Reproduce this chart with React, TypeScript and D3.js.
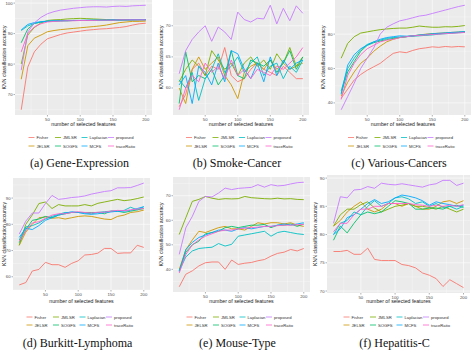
import React from "react";
import * as d3 from "d3";

// number of selected features (x axis)
const features = [10, 20, 30, 40, 50, 60, 70, 80, 90, 100, 110, 120, 130, 140, 150, 160, 170, 180, 190, 200];

const methods = ["Fisher", "JELSR", "JMLSR", "SOGFS", "Laplacian", "MCFS", "proposed", "traceRatio"];
const colors = ["#F8766D", "#CD9600", "#7CAE00", "#00BE67", "#00BFC4", "#00A9FF", "#C77CFF", "#FF61CC"];

const xTicks = [50, 100, 150, 200];

// one row per method, same order as `methods`
const geneExpression = [
  [65, 79, 84, 86.5, 88.3, 89, 89.7, 90.2, 90.5, 90.8, 91.1, 91.3, 91.5, 91.6, 91.8, 92, 92.3, 92.8, 93.2, 93.4],
  [75, 86, 88.5, 89.5, 90.6, 91, 91.3, 91.5, 91.7, 91.9, 92.1, 92.3, 92.5, 92.8, 93.2, 93.6, 93.8, 94, 94, 94.1],
  [80, 89.5, 92, 93.5, 94.3, 94.5, 94.6, 94.8, 94.9, 95, 94.9, 94.8, 94.7, 94.6, 94.5, 94.5, 94.5, 94.5, 94.5, 94.5],
  [87, 91.5, 93.3, 93.8, 94, 94.1, 94.2, 94.2, 94.3, 94.3, 94.3, 94.4, 94.4, 94.4, 94.5, 94.5, 94.5, 94.5, 94.6, 94.6],
  [91, 92.5, 93.3, 93.8, 94, 94.1, 94.2, 94.2, 94.3, 94.3, 94.3, 94.3, 94.4, 94.4, 94.4, 94.4, 94.5, 94.5, 94.5, 94.5],
  [91.2, 93, 93.6, 93.9, 94.1, 94.2, 94.2, 94.3, 94.3, 94.3, 94.4, 94.4, 94.4, 94.4, 94.5, 94.5, 94.5, 94.6, 94.6, 94.6],
  [78, 90.5, 93.5, 95.3, 96.5, 97.2, 97.7, 98, 98.3, 98.5, 98.7, 98.8, 98.8, 98.7, 98.9, 99, 98.9, 99.1, 99.2, 99.3],
  [84, 90, 92.2, 93.2, 93.8, 94, 94.1, 94.2, 94.2, 94.3, 94.3, 94.3, 94.4, 94.4, 94.4, 94.5, 94.5, 94.5, 94.5, 94.5],
];

const smokeCancer = [
  [57, 59, 63, 64, 62, 63.5, 63, 66.5, 62, 61, 61.5, 63, 64, 63, 62.5, 62, 63.5, 62.5, 61.5, 61.5],
  [60, 57.5, 63, 65, 63, 64, 65, 62, 60.5, 58.3, 62.5, 63.5, 64, 63, 64.5, 63, 64, 63, 63.5, 64],
  [61, 63, 64.5, 63.5, 62, 66, 64.5, 63, 64, 62, 64, 65, 63.5, 64.5, 63, 65.5, 64, 66.5, 63.5, 65],
  [57.5, 65.8, 61, 62, 61.5, 63, 60.5, 62, 66, 62, 61.5, 64.5, 64, 63.5, 64.5, 62.5, 64, 66, 63, 65],
  [61.3, 60, 62.5, 58, 61.5, 63, 65.5, 62.5, 63.5, 65, 62.5, 64, 65, 62, 63.5, 64, 61.5, 63.5, 62.5, 64.5],
  [60.5, 62, 57.5, 63.5, 62.5, 60.5, 64, 61, 66, 65.5, 63, 61.5, 64, 61, 65, 62, 64.5, 63, 64, 64.5],
  [62.3, 66, 67.8, 69, 70, 67.5, 69.8, 69, 67.8, 72.2, 71, 70.6, 71.2, 71.1, 73.3, 70.3, 72.8, 70.8, 73.2, 72],
  [56.5, 60, 62, 61, 64, 62.5, 63.5, 61.5, 64.5, 62, 63, 61.5, 63, 62.5, 62, 63.5, 63, 64, 65, 66.5],
];

const variousCancers = [
  [42.7, 48, 53.3, 56.5, 59, 61, 63, 66, 68.8, 69.7, 69.2, 70.5, 71.5, 72, 72.6, 72.3, 72.8, 72.5, 72.8, 72.6],
  [44, 52, 58, 63, 66, 70, 73, 75.5, 77, 78, 78.5, 79, 79.5, 80, 80.3, 80.5, 80.7, 81, 81.2, 81.3],
  [66, 74.6, 78.5, 80.6, 81.3, 82, 82.6, 83, 83.3, 83.5, 83.5, 84, 84.7, 84.3, 84, 84, 84.3, 84.2, 84.5, 85],
  [45.6, 58, 64, 70, 73.5, 75, 76, 76.8, 77.5, 78, 78.5, 79, 79.3, 79.5, 80, 80.2, 80.5, 80.7, 81, 81.3],
  [47, 60, 66, 71, 74, 75.5, 76.5, 77.5, 78, 78.3, 78.5, 78.8, 79, 79.3, 79.5, 80, 80.2, 80.5, 80.8, 81],
  [45, 62, 68, 71.5, 73.5, 75.5, 77, 78, 78.5, 79, 78.8, 79, 79.5, 79.8, 80.2, 80.5, 80.7, 81, 81.2, 81.5],
  [36, 43.7, 51.4, 60, 66, 72, 80, 84, 86, 87.7, 88.5, 89.5, 90.5, 91, 92, 93, 94, 95, 96, 96.8],
  [42, 56, 63, 68, 71.5, 73.5, 75.5, 76.5, 77, 78, 78.5, 79, 79.2, 79.5, 79.8, 80, 80.3, 80.5, 80.7, 81],
];

const burkittLymphoma = [
  [56.9, 57.8, 62.2, 62.8, 65.5, 64.6, 64.6, 63.6, 65.1, 66.1, 68.3, 68.5, 69, 70.8, 70.8, 68.9, 69.1, 69.1, 72, 71.2],
  [72, 77, 80, 82.5, 82.8, 82.3, 82.5, 82, 82.5, 83, 83.2, 83, 82.5, 82, 81.8, 83, 83.5, 84.5, 84.8, 85.4],
  [72, 80, 83.6, 87.9, 88.5, 86, 87.5, 87, 87, 87, 87.5, 87, 88, 88.5, 89, 89.5, 89, 89.3, 89.8, 90.4],
  [73, 78, 81.5, 82, 83, 82.5, 83.5, 84, 84.5, 84.5, 84.5, 84.5, 84.5, 84, 85, 85, 84.5, 85, 85.5, 86],
  [74, 79, 79.5, 80.5, 82, 83, 83.8, 84.5, 84.5, 84.5, 84.3, 84, 84.5, 84.8, 85, 85, 85.3, 86.5, 85.5, 86.7],
  [75, 78.5, 78, 79.5, 81.5, 82.5, 83.5, 84.2, 84.8, 84.5, 84, 83.8, 84, 84.5, 84.7, 85, 85, 85.3, 86, 86.7],
  [76.3, 81.2, 84.3, 84.3, 87.9, 91, 89.5, 89.8, 90.2, 90.4, 90.8, 91.5, 92, 92.5, 92.8, 93.9, 93.9, 94, 94.8, 95.7],
  [73.5, 77.5, 80.5, 81, 82.3, 83.5, 84, 84, 84.5, 84.8, 84.5, 84.3, 84.6, 84.6, 85, 85.3, 85.2, 85.5, 85.8, 86],
];

const mouseType = [
  [32.9, 38, 39.4, 41.4, 42.7, 43, 43, 40, 43.8, 42, 42.5, 42.8, 43.5, 44, 45.4, 46.5, 47, 48.1, 47.5, 48.5],
  [40, 48, 52, 55.5, 55, 56, 57, 57.5, 56.5, 56.5, 56, 57.5, 59, 58.5, 59, 59, 58.5, 59, 58, 57.5],
  [54.2, 61, 67.7, 68.5, 69.7, 69, 68.5, 68.8, 68.7, 68.8, 69.7, 69.2, 69, 68.8, 68.7, 69, 68.7, 68.8, 68.5, 68.4],
  [39.4, 47, 50, 51.5, 54.5, 55, 55.5, 57, 57.5, 57, 57.5, 58, 58, 58.3, 57, 58, 58, 58.5, 57.5, 58.5],
  [39.4, 45, 47.5, 48.5, 48.8, 49, 50.5, 49.5, 50.2, 53.5, 54, 54.5, 55, 55.5, 53.5, 55, 55.5, 55, 54.5, 54.2],
  [39, 48, 51, 53, 54, 55, 56, 56, 55.5, 56.5, 57, 56.5, 57, 57.5, 57.5, 58, 58.5, 58, 58.5, 59],
  [46.1, 56.9, 61.6, 67.7, 69.7, 69.5, 71.1, 73.1, 72.5, 73, 73.2, 73.4, 74.5, 73.5, 74.5, 74, 74.2, 74.8, 75.3, 75.5],
  [38.5, 46, 50, 52, 53.5, 54.5, 55.5, 56, 56, 56.5, 56.8, 57, 57.2, 57.5, 57.5, 57.8, 58, 58, 58.2, 58.3],
];

const hepatitisC = [
  [77, 77, 77.2, 76.5, 76.5, 77.6, 75.6, 75.4, 75.4, 75.4, 74.7, 74.5, 74.1, 73.2, 72.8, 72.2, 70.8, 72, 71.3, 70.6],
  [81.5, 82.5, 84, 85, 85.8, 84.5, 84, 84.5, 85.5, 85.5, 85, 85.5, 85, 84.5, 84.5, 85, 85.8, 86, 85.5, 86],
  [81.5, 83.5, 84.5, 84.5, 85.3, 85.8, 84.7, 84, 84.5, 85, 85.2, 85.5, 85, 85, 84.8, 84.5, 85, 84.5, 84, 84.5],
  [79, 81.5, 80.3, 82, 83.5, 84, 83.7, 84, 85, 86, 85.8, 85.5, 84.5, 84.5, 84.7, 84.7, 84.5, 85, 85.2, 84.8],
  [80, 82, 82.5, 84, 83.5, 85, 86, 85, 85.5, 86.5, 86.7, 86.3, 85.5, 85.8, 85, 85.5, 84.8, 85, 84.5, 85],
  [80, 81, 83, 83.5, 84.5, 85.5, 86.2, 85.5, 85.8, 86.5, 87, 86.8, 86.5, 86, 85.2, 85.8, 85.5, 85.3, 85, 85.2],
  [82, 86.7, 86.5, 87.9, 88, 88.5, 88.2, 89.1, 88.9, 88.8, 89, 88.8, 88.6, 88.4, 88.8, 89, 89.6, 89.6, 88.7, 89.1],
  [80.5, 82, 82, 83.5, 84.5, 84.5, 85, 85, 85.5, 85.5, 85.5, 85.5, 85.3, 85.2, 85, 85.2, 85, 85.2, 85, 85.3],
];

const panels = [
  { caption: "(a) Gene-Expression", data: geneExpression, yTicks: [70, 80, 90, 100], l: 15, r: 152, t: 0, b: 115, row: 0 },
  { caption: "(b) Smoke-Cancer", data: smokeCancer, yTicks: [60, 65, 70], l: 173, r: 309, t: 0, b: 115, row: 0 },
  { caption: "(c) Various-Cancers", data: variousCancers, yTicks: [40, 60, 80], l: 335, r: 471, t: 0, b: 115, row: 0 },
  { caption: "(d) Burkitt-Lymphoma", data: burkittLymphoma, yTicks: [60, 70, 80, 90], l: 13, r: 150, t: 178, b: 290, row: 1 },
  { caption: "(e) Mouse-Type", data: mouseType, yTicks: [40, 50, 60, 70], l: 173, r: 310, t: 177, b: 292, row: 1 },
  { caption: "(f) Hepatitis-C", data: hepatitisC, yTicks: [70, 75, 80, 85, 90], l: 327, r: 470, t: 175, b: 293, row: 1 },
];

const rows = [
  { xTitle: 126, leg: [137.5, 146], cap: 167 },
  { xTitle: 303, leg: [317, 325], cap: 347 },
];

const sans = "'Liberation Sans', Arial, sans-serif";

function mids(t: number[]) {
  const step = t[1] - t[0];
  return [t[0] - step / 2, ...t.map((v) => v + step / 2)];
}

function Panel({ p }: { p: any }) {
  const rw = rows[p.row];
  const x = d3.scaleLinear().domain([0.5, 209.5]).range([p.l, p.r]);
  const [mn, mx] = d3.extent(p.data.flat() as number[]) as [number, number];
  const pad = (mx - mn) * 0.05;
  const y = d3.scaleLinear().domain([mn - pad, mx + pad]).range([p.b, p.t]);
  const line = d3
    .line<number>()
    .x((_, i) => x(features[i]))
    .y((d) => y(d));
  const inX = (v: number) => v >= 0.5 && v <= 209.5;
  const inY = (v: number) => y(v) >= p.t && y(v) <= p.b;
  const cx = (p.l + p.r) / 2;
  const cy = (p.t + p.b) / 2;
  const legStart = cx - 55;
  const titleX = Math.max(p.l - 10, 5.5);
  return (
    <g>
      <rect x={p.l} y={p.t} width={p.r - p.l} height={p.b - p.t} fill="#EBEBEB" />
      {mids(xTicks).filter(inX).map((v) => (
        <line key={"xm" + v} x1={x(v)} x2={x(v)} y1={p.t} y2={p.b} stroke="#fff" strokeWidth={0.3} />
      ))}
      {mids(p.yTicks).filter(inY).map((v: number) => (
        <line key={"ym" + v} x1={p.l} x2={p.r} y1={y(v)} y2={y(v)} stroke="#fff" strokeWidth={0.3} />
      ))}
      {xTicks.map((v) => (
        <line key={"xg" + v} x1={x(v)} x2={x(v)} y1={p.t} y2={p.b} stroke="#fff" strokeWidth={0.6} />
      ))}
      {p.yTicks.filter(inY).map((v: number) => (
        <line key={"yg" + v} x1={p.l} x2={p.r} y1={y(v)} y2={y(v)} stroke="#fff" strokeWidth={0.6} />
      ))}
      {p.data.map((s: number[], i: number) => (
        <path key={methods[i]} d={line(s) || ""} fill="none" stroke={colors[i]} strokeWidth={0.9} />
      ))}
      {xTicks.map((v) => (
        <g key={"xt" + v}>
          <line x1={x(v)} x2={x(v)} y1={p.b} y2={p.b + 1.5} stroke="#333" strokeWidth={0.4} />
          <text x={x(v)} y={p.b + 5.5} fontSize={4.2} fill="#4D4D4D" textAnchor="middle" fontFamily={sans}>
            {v}
          </text>
        </g>
      ))}
      {p.yTicks.filter(inY).map((v: number) => (
        <g key={"yt" + v}>
          <line x1={p.l - 1.5} x2={p.l} y1={y(v)} y2={y(v)} stroke="#333" strokeWidth={0.4} />
          <text x={p.l - 2.5} y={y(v) + 1.5} fontSize={4.2} fill="#4D4D4D" textAnchor="end" fontFamily={sans}>
            {v}
          </text>
        </g>
      ))}
      <text x={cx} y={rw.xTitle} fontSize={5.2} textAnchor="middle" fontFamily={sans} fill="#222">
        number of selected features
      </text>
      <text
        transform={`translate(${titleX},${cy}) rotate(-90)`}
        fontSize={5.2}
        textAnchor="middle"
        fontFamily={sans}
        fill="#222"
      >
        KNN classification accuracy
      </text>
      {methods.map((m, i) => {
        const col = Math.floor(i / 2);
        const r = i % 2;
        const lx = legStart + col * 26.5;
        const ly = rw.leg[r];
        return (
          <g key={"lg" + m}>
            <line x1={lx} x2={lx + 6} y1={ly} y2={ly} stroke={colors[i]} strokeWidth={0.8} />
            <text x={lx + 8} y={ly + 1.5} fontSize={4.2} fontFamily={sans} fill="#333">
              {m}
            </text>
          </g>
        );
      })}
      <text x={cx - 4} y={rw.cap} fontSize={12} textAnchor="middle" fontFamily="'Liberation Serif', 'DejaVu Serif', serif" fill="#111">
        {p.caption}
      </text>
    </g>
  );
}

export default function App() {
  return (
    <svg width={474} height={351} style={{ position: "absolute", left: 0, top: 0, background: "#fff" }}>
      <rect width={474} height={351} fill="#fff" />
      {panels.map((p) => (
        <Panel key={p.caption} p={p} />
      ))}
    </svg>
  );
}
